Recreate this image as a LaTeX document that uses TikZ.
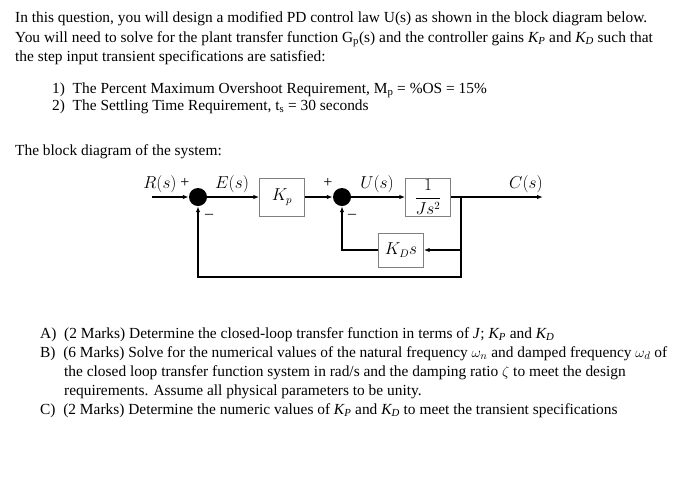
\documentclass[tikz,border=0pt]{standalone}
\usepackage{fontspec}
\setmainfont{Liberation Serif}
\usepackage{amsmath}
\usetikzlibrary{positioning,arrows.meta}

\begin{document}
\begin{tikzpicture}
[x=1pt,y=-1pt,font=\fontsize{15.4}{17}\selectfont,
  txt/.style={anchor=base west,inner sep=0pt},
  blk/.style={draw=gray,fill=white,minimum width=45pt,minimum height=38pt,inner sep=0pt,font=\fontsize{16}{18}\selectfont},
  sum/.style={circle,fill=black,minimum size=18pt,inner sep=0pt},
  sig/.style={line width=1.4pt,-{Latex[length=6pt]}},
  lbl/.style={font=\fontsize{16}{18}\selectfont,inner sep=1pt}]
\useasboundingbox (0,0) rectangle (700,480);
% question text
\node[txt] (l1) at (15,22) {In this question, you will design a modified PD control law U(s) as shown in the block diagram below.};
\node[txt] (l2) at (15,42) {You will need to solve for the plant transfer function G\textsubscript{p}(s) and the controller gains \textit{K\textsubscript{P}} and \textit{K\textsubscript{D}} such that};
\node[txt] (l3) at (15,61) {the step input transient specifications are satisfied:};
\node[txt] (r1) at (52,93) {1)\ \ The Percent Maximum Overshoot Requirement, M\textsubscript{p} = \%OS = 15\%};
\node[txt] (r2) at (52,110) {2)\ \ The Settling Time Requirement, t\textsubscript{s} = 30 seconds};
\node[txt] (bd) at (15,155) {The block diagram of the system:};
% block diagram
\node[sum] (sum1) at (198,197) {};
\node[sum] (sum2) at (342,197) {};
\node[blk] (kp) at (282,197) {$K_p$};
\node[blk] (plant) at (428,197) {$\dfrac{1}{Js^2}$};
\node[blk,minimum height=34pt] (kd) at (401,250) {$K_D s$};
\coordinate (in) at (152,197);
\coordinate (out) at (543,197);
\coordinate (br) at (461,197);
\draw[sig] (in) -- (sum1);
\draw[sig] (sum1) -- (kp);
\draw[sig] (kp) -- (sum2);
\draw[sig] (sum2) -- (plant);
\draw[sig] (plant) -- (out);
\draw[sig] (br) |- (kd);
\draw[sig] (kd) -| (sum2);
\draw[sig] (br) |- (198,277) -- (sum1);
\node[lbl] at (160,184) {$R(s)$};
\node[lbl] at (185,183) {+};
\node[lbl] at (232,184) {$E(s)$};
\node[lbl] at (209,216) {--};
\node[lbl] at (328,183) {+};
\node[lbl] at (352,216) {--};
\node[lbl] at (377,184) {$U(s)$};
\node[lbl] at (526,184) {$C(s)$};
% parts
\node[txt] (qa) at (40,338) {A)\ \ (2 Marks) Determine the closed-loop transfer function in terms of \textit{J}; \textit{K\textsubscript{P}} and \textit{K\textsubscript{D}}};
\node[txt] (qb) at (40,357) {B)\ \ (6 Marks) Solve for the numerical values of the natural frequency $\omega_n$ and damped frequency $\omega_d$ of};
\node[txt] (qb2) at (64,376) {the closed loop transfer function system in rad/s and the damping ratio $\zeta$ to meet the design};
\node[txt] (qb3) at (64,395) {requirements. Assume all physical parameters to be unity.};
\node[txt] (qc) at (40,414) {C)\ \ (2 Marks) Determine the numeric values of \textit{K\textsubscript{P}} and \textit{K\textsubscript{D}} to meet the transient specifications};
\end{tikzpicture}
\end{document}
